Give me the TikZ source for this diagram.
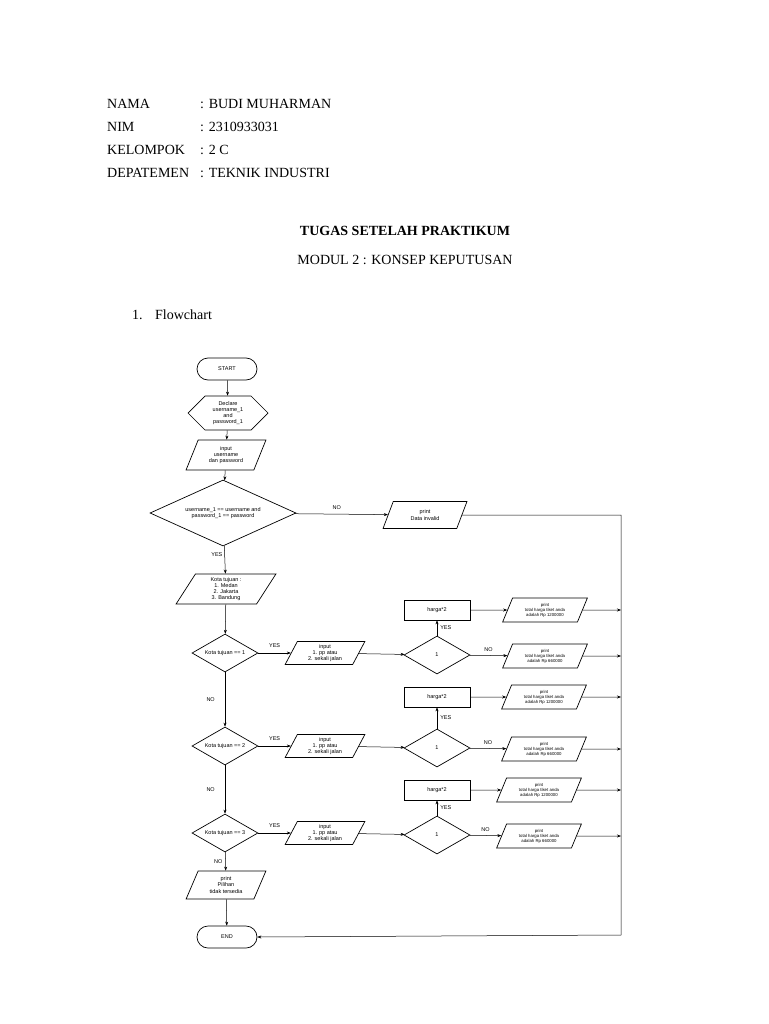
\documentclass[tikz,border=0pt]{standalone}
\usepackage{fontspec}
\setmainfont{Liberation Serif}
\newfontfamily\fcfont{Liberation Sans}
\usetikzlibrary{shapes.geometric,shapes.misc,shapes.symbols,arrows.meta}
\begin{document}
\begin{tikzpicture}[x=1pt,y=-1pt,
  hdr/.style={anchor=base west,font=\fontsize{14}{16}\selectfont,inner sep=0},
  fc/.style={draw,line width=0.7pt,font=\fcfont\fontsize{5.5}{6.2}\selectfont,align=center,inner sep=1pt},
  term/.style={fc,rounded rectangle,minimum width=62pt,minimum height=22pt},
  hexa/.style={fc,signal,signal to=east and west,minimum width=80pt,minimum height=34pt},
  para/.style={fc,trapezium,trapezium left angle=68,trapezium right angle=112,trapezium stretches=true},
  dec/.style={fc,diamond,inner sep=0},
  proc/.style={fc,rectangle,minimum width=66pt,minimum height=20pt},
  lab/.style={font=\fcfont\fontsize{5.5}{6}\selectfont,inner sep=0},
  arr/.style={-{Stealth[length=4pt,width=3pt]},line width=0.5pt},
  ln/.style={line width=0.5pt}]
\useasboundingbox (0,0) rectangle (768,1024);
\fill[white] (0,0) rectangle (768,1024);
% header
\node[hdr] (n1) at (107,109) {NAMA};
\node[hdr] (v1) at (200,109) {: BUDI MUHARMAN};
\node[hdr] (n2) at (107,132) {NIM};
\node[hdr] (v2) at (200,132) {: 2310933031};
\node[hdr] (n3) at (107,155) {KELOMPOK};
\node[hdr] (v3) at (200,155) {: 2 C};
\node[hdr] (n4) at (107,178) {DEPATEMEN};
\node[hdr] (v4) at (200,178) {: TEKNIK INDUSTRI};
\node[font=\fontsize{14}{16}\selectfont\bfseries,inner sep=0] (t1) at (405,231) {TUGAS SETELAH PRAKTIKUM};
\node[font=\fontsize{14}{16}\selectfont,inner sep=0] (t2) at (405,260) {MODUL 2 : KONSEP KEPUTUSAN};
\node[hdr] (i1) at (132,319) {1.};
\node[hdr] (i2) at (155,319) {Flowchart};
% flowchart
\node[term] (start) at (227,369) {START};
\node[hexa] (decl) at (228,413) {Declare\\username\_1\\and\\password\_1};
\node[para,minimum width=80pt,minimum height=30pt] (inp) at (226,455) {input\\username\\dan password};
\node[dec,minimum width=146pt,minimum height=66pt,aspect=2.2] (d0) at (223,513) {username\_1 == username and\\password\_1 == password};
\node[para,minimum width=84pt,minimum height=27pt] (inv) at (425,515) {print\\Data invalid};
\node[para,minimum width=100pt,minimum height=30pt] (kota) at (226,589) {Kota tujuan :\\1. Medan\\2. Jakarta\\3. Bandung};
\draw[arr] (start) -- (decl);
\draw[arr] (decl) -- (inp);
\draw[arr] (inp) -- (d0);
\draw[arr] (d0) -- node[lab,above=4pt,pos=0.45]{NO} (inv);
\draw[arr] (d0) -- node[lab,left=2pt,pos=0.3]{YES} (kota);
\coordinate (rtop) at (621,515);
\coordinate (rbot) at (621,935);
\draw[ln] (inv.east) -- (rtop) -- (rbot);
% three branches
\foreach \i/\y/\hy/\px in {1/653/610/545, 2/746/697/544, 3/833/790/539}{
  \node[dec,minimum width=66pt,minimum height=38pt,aspect=1.7] (k\i) at (225,\y) {Kota tujuan == \i};
  \node[para,minimum width=80pt,minimum height=23pt] (p\i) at (325,\y) {input\\1. pp atau\\2. sekali jalan};
  \node[dec,minimum width=66pt,minimum height=38pt,aspect=1.7] (q\i) at (437,\y+2) {1};
  \node[proc] (h\i) at (437,\hy) {harga*2};
  \node[para,minimum width=85pt,minimum height=24pt,font=\fcfont\fontsize{4.3}{5}\selectfont] (a\i) at (\px,\hy) {print\\total harga tiket anda\\adalah Rp 1200000};
  \node[para,minimum width=85pt,minimum height=24pt,font=\fcfont\fontsize{4.3}{5}\selectfont] (b\i) at (\px,\y+3) {print\\total harga tiket anda\\adalah Rp 660000};
  \coordinate (ra\i) at (621,\hy);
  \coordinate (rb\i) at (621,\y+3);
  \draw[arr] (k\i) -- node[lab,above=5pt]{YES} (p\i);
  \draw[arr] (p\i) -- (q\i);
  \draw[arr] (q\i) -- node[lab,right=3pt]{YES} (h\i);
  \draw[arr] (h\i) -- (a\i);
  \draw[arr] (q\i) -- node[lab,above=4pt]{NO} (b\i);
  \draw[arr] (a\i.east) -- (ra\i);
  \draw[arr] (b\i.east) -- (rb\i);
}
\node[para,minimum width=80pt,minimum height=28pt] (pil) at (226,885) {print\\Pilihan\\tidak tersedia};
\node[term] (end) at (227,937) {END};
\draw[arr] (kota) -- (k1);
\draw[arr] (k1) -- node[lab,left=10pt]{NO} (k2);
\draw[arr] (k2) -- node[lab,left=10pt]{NO} (k3);
\draw[arr] (k3) -- node[lab,left=3pt]{NO} (pil);
\draw[arr] (pil) -- (end);
\draw[arr] (rbot) -- (end.east);
\end{tikzpicture}
\end{document}
